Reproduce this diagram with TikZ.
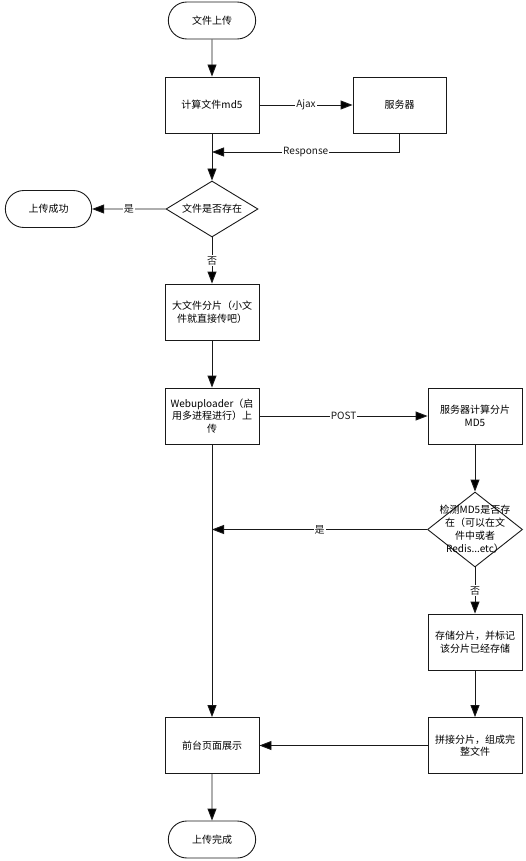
\documentclass[tikz,border=0pt]{standalone}
\usepackage{fontspec}
\setmainfont{Noto Sans CJK SC}
\usetikzlibrary{arrows.meta,shapes.geometric,shapes.misc}

\begin{document}
\begin{tikzpicture}[
        x=1pt, y=-1pt,
        font=\fontsize{10}{12.5}\selectfont,
        box/.style={draw=black!90, line width=0.9pt, minimum width=94pt, minimum height=56pt, align=center, inner sep=2pt},
        term/.style={draw=black!90, line width=0.9pt, rounded rectangle, minimum width=94pt, minimum height=37pt},
        decision/.style={draw=black!90, line width=0.9pt, diamond, inner sep=0pt, aspect=1.6},
        arrow/.style={-{Triangle[length=12pt,width=9pt,fill=black]}, line width=0.9pt, black!90},
        tag/.style={fill=white, inner sep=1pt}
    ]
        \useasboundingbox (0,0) rectangle (525,861);

        % 客户端流程
        \node[term] (start) at (212,20.5) {文件上传};
        \node[box] (md5) at (212,105) {计算文件md5};
        \node[box, minimum width=93pt] (server) at (399.5,105) {服务器};
        \node[decision, minimum width=92pt, minimum height=56pt] (exists) at (212,209) {文件是否存在};
        \node[term, minimum width=93pt] (success) at (48.5,209) {上传成功};
        \node[box] (split) at (212,312) {大文件分片（小文\\件就直接传吧）};
        \node[box] (upload) at (212,416) {Webuploader（启\\用多进程进行）上\\传};
        \node[box] (show) at (212,745.5) {前台页面展示};
        \node[term] (done) at (212,839.5) {上传完成};

        % 服务端流程
        \node[box] (calc) at (475,416) {服务器计算分片\\MD5};
        \node[decision, minimum width=95pt, minimum height=75pt,
            label={[align=center, font=\fontsize{10}{13}\selectfont]center:{检测MD5是否存\\在（可以在文\\件中或者\\Redis...etc）}}] (check) at (475,529.5) {};
        \node[box] (store) at (475,642) {存储分片，并标记\\该分片已经存储};
        \node[box] (merge) at (475,745.5) {拼接分片，组成完\\整文件};

        \coordinate (resp) at (212,152);
        \coordinate (hit) at (212,529.5);

        % 连线
        \draw[arrow] (start) -- (md5);
        \draw[arrow] (md5) -- node[tag] {Ajax} (server);
        \draw[arrow] (server.south) |- node[tag, pos=0.75] {Response} (resp);
        \draw[arrow] (md5) -- (exists);
        \draw[arrow] (exists) -- node[tag] {是} (success);
        \draw[arrow] (exists) -- node[tag] {否} (split);
        \draw[arrow] (split) -- (upload);
        \draw[arrow] (upload) -- node[tag] {POST} (calc);
        \draw[arrow] (calc) -- (check);
        \draw[arrow] (check) -- node[tag] {是} (hit);
        \draw[arrow] (check) -- node[tag] {否} (store);
        \draw[arrow] (store) -- (merge);
        \draw[arrow] (merge) -- (show);
        \draw[arrow] (upload) -- (show);
        \draw[arrow] (show) -- (done);
    \end{tikzpicture}
\end{document}
